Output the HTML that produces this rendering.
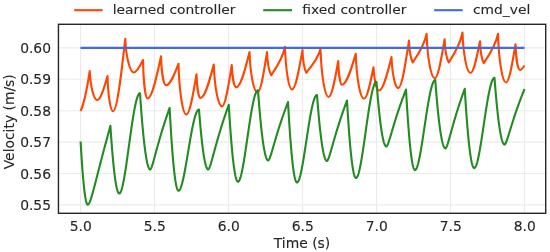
<!DOCTYPE html>
<html><head><meta charset="utf-8"><style>
html,body{margin:0;padding:0;background:#fff;}
svg{display:block;}
</style></head><body>
<svg width="550" height="252" viewBox="0 0 550 252">
<rect width="550" height="252" fill="#ffffff"/>
<g stroke="#ebebeb" stroke-width="1.1" fill="none">
<line x1="80.5" y1="24.3" x2="80.5" y2="213.3"/>
<line x1="154.5" y1="24.3" x2="154.5" y2="213.3"/>
<line x1="228.5" y1="24.3" x2="228.5" y2="213.3"/>
<line x1="302.5" y1="24.3" x2="302.5" y2="213.3"/>
<line x1="376.5" y1="24.3" x2="376.5" y2="213.3"/>
<line x1="450.5" y1="24.3" x2="450.5" y2="213.3"/>
<line x1="524.5" y1="24.3" x2="524.5" y2="213.3"/>
<line x1="58.45" y1="204.9" x2="545.7" y2="204.9"/>
<line x1="58.45" y1="173.5" x2="545.7" y2="173.5"/>
<line x1="58.45" y1="142.1" x2="545.7" y2="142.1"/>
<line x1="58.45" y1="110.7" x2="545.7" y2="110.7"/>
<line x1="58.45" y1="79.3" x2="545.7" y2="79.3"/>
<line x1="58.45" y1="47.9" x2="545.7" y2="47.9"/>
</g>
<g fill="none" stroke-width="2.1" stroke-linejoin="round" stroke-linecap="butt">
<path stroke="#ff4500" d="M80.5 111 C83.74 105 86.97 89 89.75 71 C90.5 86.95 93.88 100 97.25 100 C100.84 100 104.42 86.8 107.5 76 C108.05 95.39 110.53 111.25 113 111.25 C117.29 111.25 121.58 71.38 125.25 38.75 C126.1 57.31 129.93 72.5 133.75 72.5 C136.99 72.5 140.22 65.62 143 60 C143.45 81.17 145.47 98.5 147.5 98.5 C152.22 98.5 156.95 75.26 161 56.25 C161.5 72.17 163.75 85.2 166 85.2 C170.38 85.2 174.75 73.4 178.5 63.75 C179.28 91.66 182.79 114.5 186.3 114.5 C189.87 114.5 193.44 92.36 196.5 74.25 C196.9 87.31 198.7 98 200.5 98 C205.14 98 209.78 79.58 213.75 64.5 C214.57 87.46 218.29 106.25 222 106.25 C225.41 106.25 228.82 83.56 231.75 65 C232.2 77.24 234.22 87.25 236.25 87.25 C240.89 87.25 245.53 67.86 249.5 52 C250.3 74.28 253.9 92.5 257.5 92.5 C260.82 92.5 264.15 70.22 267 52 C267.43 64.79 269.76 72.46 271.25 75.25 C276.06 68.12 282.94 58.15 285 46.75 C285.7 70.26 288.85 89.5 292 89.5 C295.68 89.5 299.35 67.78 302.5 50 C302.88 62.51 304.94 70.02 306.25 72.75 C311.24 66.75 318.36 58.35 320.5 48.75 C321.31 75.29 324.96 97 328.6 97 C331.98 97 335.36 77.2 338.25 61 C338.62 74.06 340.31 84.75 342 84.75 C346.81 84.75 351.62 67.7 355.75 53.75 C356.57 78.5 360.29 98.75 364 98.75 C367.32 98.75 370.65 81.42 373.5 67.25 C374.05 80.04 376.52 90.5 379 90.5 C383.38 90.5 387.75 72.08 391.5 57 C392.18 74.1 395.21 88.1 398.25 88.1 C402.01 88.1 405.77 61.92 409 40.5 C409.38 52.6 411.44 59.86 412.75 62.5 C417.6 55.31 424.52 45.25 426.6 33.75 C427.42 58.23 431.08 78.25 434.75 78.25 C438.2 78.25 441.65 56.8 444.6 39.25 C445.02 52.04 447.3 59.71 448.75 62.5 C453.56 55 460.44 44.5 462.5 32.5 C463.3 54.78 466.9 73 470.5 73 C473.82 73 477.15 55.54 480 41.25 C480.38 53.21 482.44 60.39 483.75 63 C488.74 55.69 495.86 45.45 498 33.75 C498.8 60.56 502.4 82.5 506 82.5 C509.32 82.5 512.65 61.46 515.5 44.25 C515.95 58.41 517.98 70 520 70 C521.58 70 523.15 67.53 524.5 65.5"/>
<path stroke="#228b22" d="M80.6 141.5 L80.98 147.98 L81.36 154.1 L81.74 159.88 L82.12 165.31 L82.49 170.39 L82.87 175.11 L83.25 179.49 L83.63 183.52 L84.01 187.19 L84.39 190.52 L84.77 193.5 L85.15 196.12 L85.53 198.4 L85.91 200.32 L86.28 201.9 L86.66 203.12 L87.04 204 L87.42 204.52 L87.8 204.7 L88.2 204.48 L88.59 204.07 L88.99 203.49 L89.39 202.75 L89.78 201.88 L90.18 200.89 L90.58 199.79 L90.97 198.61 L91.37 197.36 L91.76 196.06 L92.16 194.7 L92.56 193.31 L92.95 191.88 L93.35 190.42 L93.75 188.95 L94.14 187.46 L94.54 185.95 L94.94 184.43 L95.33 182.9 L95.73 181.37 L96.13 179.83 L96.52 178.29 L96.92 176.74 L97.32 175.2 L97.71 173.65 L98.11 172.11 L98.51 170.56 L98.9 169.02 L99.3 167.48 L99.69 165.94 L100.09 164.41 L100.49 162.88 L100.88 161.35 L101.28 159.83 L101.68 158.32 L102.07 156.8 L102.47 155.29 L102.87 153.79 L103.26 152.29 L103.66 150.79 L104.06 149.3 L104.45 147.81 L104.85 146.32 L105.25 144.84 L105.64 143.37 L106.04 141.89 L106.44 140.42 L106.83 138.95 L107.23 137.48 L107.62 136.02 L108.02 134.56 L108.42 133.1 L108.81 131.64 L109.21 130.18 L109.61 128.72 L110 127.26 L110.4 125.8 L110.78 131.56 L111.17 137.06 L111.55 142.31 L111.94 147.3 L112.32 152.04 L112.71 156.51 L113.09 160.74 L113.48 164.71 L113.86 168.42 L114.25 171.87 L114.63 175.07 L115.02 178.01 L115.4 180.7 L115.79 183.13 L116.17 185.31 L116.56 187.23 L116.94 188.89 L117.33 190.3 L117.71 191.45 L118.1 192.35 L118.48 192.99 L118.87 193.37 L119.25 193.5 L119.65 193.38 L120.05 193.01 L120.45 192.42 L120.85 191.61 L121.25 190.59 L121.64 189.39 L122.04 187.99 L122.44 186.43 L122.84 184.71 L123.24 182.84 L123.64 180.82 L124.04 178.68 L124.44 176.43 L124.84 174.06 L125.24 171.6 L125.63 169.05 L126.03 166.42 L126.43 163.73 L126.83 160.97 L127.23 158.17 L127.63 155.33 L128.03 152.46 L128.43 149.57 L128.83 146.67 L129.23 143.77 L129.62 140.87 L130.02 137.99 L130.42 135.13 L130.82 132.3 L131.22 129.51 L131.62 126.77 L132.02 124.09 L132.42 121.47 L132.82 118.92 L133.22 116.45 L133.62 114.06 L134.01 111.77 L134.41 109.58 L134.81 107.5 L135.21 105.54 L135.61 103.69 L136.01 101.98 L136.41 100.4 L136.81 98.96 L137.21 97.67 L137.61 96.53 L138 95.55 L138.4 94.74 L138.8 94.09 L139.2 93.63 L139.6 93.35 L140 93.25 L140.39 99 L140.79 104.53 L141.18 109.83 L141.58 114.91 L141.97 119.76 L142.37 124.38 L142.76 128.78 L143.15 132.95 L143.55 136.9 L143.94 140.62 L144.34 144.12 L144.73 147.39 L145.12 150.44 L145.52 153.26 L145.91 155.85 L146.31 158.22 L146.7 160.36 L147.1 162.28 L147.49 163.97 L147.88 165.44 L148.28 166.68 L148.67 167.7 L149.07 168.48 L149.46 169.05 L149.86 169.39 L150.25 169.5 L150.64 169.12 L151.04 168.48 L151.43 167.62 L151.83 166.58 L152.22 165.42 L152.62 164.16 L153.01 162.83 L153.41 161.46 L153.8 160.06 L154.2 158.63 L154.59 157.18 L154.99 155.73 L155.38 154.27 L155.78 152.81 L156.17 151.35 L156.57 149.9 L156.96 148.45 L157.36 147.01 L157.75 145.58 L158.15 144.16 L158.54 142.75 L158.94 141.35 L159.33 139.96 L159.73 138.59 L160.12 137.22 L160.52 135.87 L160.91 134.54 L161.31 133.22 L161.7 131.91 L162.1 130.61 L162.49 129.33 L162.89 128.06 L163.28 126.8 L163.68 125.56 L164.07 124.32 L164.47 123.1 L164.86 121.89 L165.26 120.69 L165.65 119.49 L166.05 118.31 L166.44 117.13 L166.84 115.96 L167.23 114.8 L167.63 113.64 L168.02 112.49 L168.42 111.34 L168.81 110.19 L169.21 109.05 L169.6 107.9 L169.99 114.95 L170.37 121.68 L170.76 128.1 L171.15 134.21 L171.53 140.01 L171.92 145.49 L172.31 150.66 L172.7 155.51 L173.08 160.05 L173.47 164.28 L173.86 168.2 L174.24 171.8 L174.63 175.09 L175.02 178.06 L175.4 180.73 L175.79 183.08 L176.18 185.11 L176.57 186.83 L176.95 188.24 L177.34 189.34 L177.73 190.12 L178.11 190.59 L178.5 190.75 L178.89 190.65 L179.29 190.35 L179.68 189.87 L180.08 189.22 L180.47 188.4 L180.87 187.42 L181.26 186.29 L181.65 185.02 L182.05 183.63 L182.44 182.11 L182.84 180.48 L183.23 178.74 L183.62 176.91 L184.02 174.99 L184.41 173 L184.81 170.93 L185.2 168.8 L185.6 166.62 L185.99 164.39 L186.38 162.12 L186.78 159.82 L187.17 157.49 L187.57 155.15 L187.96 152.8 L188.36 150.44 L188.75 148.09 L189.14 145.76 L189.54 143.44 L189.93 141.15 L190.33 138.89 L190.72 136.67 L191.12 134.49 L191.51 132.37 L191.9 130.3 L192.3 128.3 L192.69 126.37 L193.09 124.51 L193.48 122.74 L193.88 121.05 L194.27 119.46 L194.66 117.97 L195.06 116.57 L195.45 115.29 L195.85 114.13 L196.24 113.08 L196.63 112.16 L197.03 111.36 L197.42 110.7 L197.82 110.18 L198.21 109.81 L198.61 109.58 L199 109.5 L199.39 114.4 L199.77 119.08 L200.16 123.56 L200.54 127.83 L200.93 131.9 L201.31 135.75 L201.7 139.4 L202.08 142.83 L202.47 146.06 L202.85 149.08 L203.24 151.9 L203.62 154.5 L204.01 156.9 L204.4 159.08 L204.78 161.06 L205.17 162.83 L205.55 164.4 L205.94 165.75 L206.32 166.9 L206.71 167.83 L207.09 168.56 L207.48 169.08 L207.86 169.4 L208.25 169.5 L208.64 169.13 L209.04 168.52 L209.43 167.69 L209.83 166.7 L210.22 165.57 L210.62 164.35 L211.01 163.06 L211.4 161.72 L211.8 160.34 L212.19 158.94 L212.59 157.52 L212.98 156.08 L213.38 154.64 L213.77 153.2 L214.16 151.75 L214.56 150.31 L214.95 148.87 L215.35 147.44 L215.74 146.01 L216.13 144.59 L216.53 143.18 L216.92 141.78 L217.32 140.39 L217.71 139.01 L218.11 137.64 L218.5 136.29 L218.89 134.94 L219.29 133.61 L219.68 132.3 L220.08 130.99 L220.47 129.7 L220.87 128.42 L221.26 127.15 L221.65 125.89 L222.05 124.64 L222.44 123.41 L222.84 122.19 L223.23 120.97 L223.62 119.77 L224.02 118.58 L224.41 117.39 L224.81 116.22 L225.2 115.05 L225.6 113.89 L225.99 112.73 L226.38 111.58 L226.78 110.44 L227.17 109.29 L227.57 108.16 L227.96 107.02 L228.36 105.88 L228.75 104.75 L229.14 111.03 L229.52 117.05 L229.91 122.8 L230.29 128.28 L230.68 133.49 L231.06 138.44 L231.45 143.12 L231.83 147.53 L232.22 151.67 L232.6 155.55 L232.99 159.16 L233.38 162.5 L233.76 165.57 L234.15 168.38 L234.53 170.92 L234.92 173.19 L235.3 175.2 L235.69 176.94 L236.07 178.41 L236.46 179.61 L236.84 180.55 L237.23 181.22 L237.61 181.62 L238 181.75 L238.4 181.63 L238.8 181.27 L239.2 180.69 L239.6 179.89 L240 178.89 L240.4 177.71 L240.8 176.34 L241.2 174.82 L241.6 173.13 L242 171.3 L242.4 169.34 L242.8 167.26 L243.2 165.06 L243.6 162.77 L244 160.38 L244.4 157.92 L244.8 155.38 L245.2 152.79 L245.6 150.14 L246 147.45 L246.4 144.73 L246.8 142 L247.2 139.24 L247.6 136.49 L248 133.74 L248.4 131 L248.8 128.29 L249.2 125.61 L249.6 122.97 L250 120.38 L250.4 117.85 L250.8 115.38 L251.2 112.98 L251.6 110.67 L252 108.44 L252.4 106.31 L252.8 104.28 L253.2 102.36 L253.6 100.55 L254 98.87 L254.4 97.33 L254.8 95.91 L255.2 94.65 L255.6 93.53 L256 92.56 L256.4 91.76 L256.8 91.13 L257.2 90.67 L257.6 90.39 L258 90.3 L258.39 95.6 L258.79 100.68 L259.18 105.57 L259.58 110.24 L259.97 114.7 L260.37 118.96 L260.76 123.01 L261.15 126.85 L261.55 130.49 L261.94 133.92 L262.34 137.13 L262.73 140.15 L263.12 142.95 L263.52 145.55 L263.91 147.93 L264.31 150.12 L264.7 152.09 L265.1 153.85 L265.49 155.41 L265.88 156.76 L266.28 157.9 L266.67 158.84 L267.07 159.57 L267.46 160.08 L267.86 160.4 L268.25 160.5 L268.64 160.15 L269.04 159.56 L269.44 158.77 L269.83 157.81 L270.23 156.74 L270.62 155.57 L271.01 154.35 L271.41 153.08 L271.81 151.77 L272.2 150.45 L272.6 149.11 L272.99 147.75 L273.38 146.4 L273.78 145.04 L274.18 143.68 L274.57 142.33 L274.96 140.98 L275.36 139.64 L275.75 138.3 L276.15 136.97 L276.55 135.66 L276.94 134.35 L277.33 133.05 L277.73 131.77 L278.12 130.49 L278.52 129.23 L278.92 127.98 L279.31 126.74 L279.7 125.52 L280.1 124.31 L280.5 123.1 L280.89 121.92 L281.29 120.74 L281.68 119.57 L282.07 118.42 L282.47 117.27 L282.87 116.14 L283.26 115.01 L283.65 113.89 L284.05 112.79 L284.44 111.68 L284.84 110.59 L285.24 109.5 L285.63 108.42 L286.02 107.34 L286.42 106.27 L286.81 105.2 L287.21 104.13 L287.61 103.07 L288 102 L288.39 108.85 L288.78 115.39 L289.17 121.63 L289.57 127.57 L289.96 133.2 L290.35 138.52 L290.74 143.54 L291.13 148.26 L291.52 152.67 L291.91 156.78 L292.3 160.59 L292.7 164.09 L293.09 167.28 L293.48 170.17 L293.87 172.76 L294.26 175.04 L294.65 177.02 L295.04 178.7 L295.43 180.07 L295.83 181.13 L296.22 181.89 L296.61 182.35 L297 182.5 L297.4 182.38 L297.8 182.04 L298.2 181.48 L298.6 180.72 L299 179.77 L299.4 178.63 L299.8 177.33 L300.2 175.86 L300.6 174.25 L301 172.5 L301.4 170.63 L301.8 168.63 L302.2 166.54 L302.6 164.34 L303 162.06 L303.4 159.7 L303.8 157.27 L304.2 154.79 L304.6 152.25 L305 149.68 L305.4 147.08 L305.8 144.46 L306.2 141.83 L306.6 139.19 L307 136.56 L307.4 133.95 L307.8 131.35 L308.2 128.79 L308.6 126.26 L309 123.78 L309.4 121.36 L309.8 119 L310.2 116.7 L310.6 114.49 L311 112.36 L311.4 110.32 L311.8 108.37 L312.2 106.54 L312.6 104.81 L313 103.2 L313.4 101.72 L313.8 100.37 L314.2 99.16 L314.6 98.09 L315 97.17 L315.4 96.4 L315.8 95.8 L316.2 95.36 L316.6 95.09 L317 95 L317.4 100.17 L317.8 105.14 L318.2 109.89 L318.6 114.43 L319 118.76 L319.4 122.88 L319.8 126.79 L320.2 130.48 L320.6 133.97 L321 137.24 L321.4 140.3 L321.8 143.15 L322.2 145.79 L322.6 148.22 L323 150.44 L323.4 152.45 L323.8 154.24 L324.2 155.83 L324.6 157.2 L325 158.36 L325.4 159.31 L325.8 160.05 L326.2 160.58 L326.6 160.89 L327 161 L327.4 160.64 L327.8 160.03 L328.2 159.21 L328.6 158.22 L329 157.11 L329.4 155.91 L329.8 154.64 L330.2 153.32 L330.6 151.97 L331 150.6 L331.4 149.22 L331.8 147.82 L332.2 146.42 L332.6 145.01 L333 143.61 L333.4 142.21 L333.8 140.81 L334.2 139.42 L334.6 138.04 L335 136.67 L335.4 135.31 L335.8 133.95 L336.2 132.61 L336.6 131.28 L337 129.97 L337.4 128.66 L337.8 127.37 L338.2 126.09 L338.6 124.82 L339 123.57 L339.4 122.33 L339.8 121.1 L340.2 119.88 L340.6 118.67 L341 117.48 L341.4 116.29 L341.8 115.12 L342.2 113.96 L342.6 112.8 L343 111.65 L343.4 110.52 L343.8 109.38 L344.2 108.26 L344.6 107.14 L345 106.03 L345.4 104.92 L345.8 103.81 L346.2 102.71 L346.6 101.6 L347 100.5 L347.39 107.09 L347.78 113.39 L348.17 119.4 L348.57 125.11 L348.96 130.53 L349.35 135.66 L349.74 140.5 L350.13 145.04 L350.52 149.29 L350.91 153.24 L351.3 156.9 L351.7 160.27 L352.09 163.35 L352.48 166.13 L352.87 168.62 L353.26 170.82 L353.65 172.73 L354.04 174.34 L354.43 175.66 L354.83 176.68 L355.22 177.41 L355.61 177.85 L356 178 L356.39 177.88 L356.79 177.53 L357.18 176.96 L357.58 176.18 L357.97 175.21 L358.37 174.05 L358.76 172.71 L359.15 171.21 L359.55 169.56 L359.94 167.76 L360.34 165.83 L360.73 163.78 L361.12 161.61 L361.52 159.34 L361.91 156.97 L362.31 154.52 L362.7 152 L363.1 149.41 L363.49 146.77 L363.88 144.08 L364.28 141.35 L364.67 138.6 L365.07 135.82 L365.46 133.04 L365.86 130.25 L366.25 127.47 L366.64 124.7 L367.04 121.96 L367.43 119.24 L367.83 116.56 L368.22 113.93 L368.62 111.36 L369.01 108.84 L369.4 106.39 L369.8 104.02 L370.19 101.73 L370.59 99.53 L370.98 97.43 L371.38 95.44 L371.77 93.55 L372.16 91.78 L372.56 90.13 L372.95 88.61 L373.35 87.23 L373.74 85.99 L374.13 84.9 L374.53 83.96 L374.92 83.18 L375.32 82.56 L375.71 82.11 L376.11 81.84 L376.5 81.75 L376.9 86.83 L377.29 91.7 L377.69 96.36 L378.08 100.81 L378.48 105.06 L378.88 109.1 L379.27 112.93 L379.67 116.56 L380.06 119.98 L380.46 123.19 L380.86 126.19 L381.25 128.99 L381.65 131.58 L382.04 133.96 L382.44 136.14 L382.84 138.11 L383.23 139.87 L383.63 141.42 L384.02 142.77 L384.42 143.91 L384.82 144.84 L385.21 145.57 L385.61 146.09 L386 146.4 L386.4 146.5 L386.79 146.16 L387.18 145.59 L387.58 144.81 L387.97 143.88 L388.36 142.83 L388.75 141.7 L389.14 140.51 L389.54 139.27 L389.93 138 L390.32 136.7 L390.71 135.4 L391.1 134.08 L391.5 132.76 L391.89 131.44 L392.28 130.11 L392.67 128.79 L393.06 127.48 L393.46 126.17 L393.85 124.87 L394.24 123.58 L394.63 122.29 L395.02 121.02 L395.42 119.76 L395.81 118.5 L396.2 117.26 L396.59 116.03 L396.98 114.82 L397.38 113.61 L397.77 112.42 L398.16 111.23 L398.55 110.06 L398.94 108.9 L399.34 107.76 L399.73 106.62 L400.12 105.49 L400.51 104.38 L400.9 103.27 L401.3 102.18 L401.69 101.09 L402.08 100.01 L402.47 98.94 L402.86 97.87 L403.26 96.81 L403.65 95.76 L404.04 94.71 L404.43 93.66 L404.82 92.62 L405.22 91.58 L405.61 90.54 L406 89.5 L406.39 96.35 L406.78 102.89 L407.17 109.13 L407.57 115.07 L407.96 120.7 L408.35 126.02 L408.74 131.04 L409.13 135.76 L409.52 140.17 L409.91 144.28 L410.3 148.09 L410.7 151.59 L411.09 154.78 L411.48 157.67 L411.87 160.26 L412.26 162.54 L412.65 164.52 L413.04 166.2 L413.43 167.57 L413.83 168.63 L414.22 169.39 L414.61 169.85 L415 170 L415.4 169.88 L415.79 169.54 L416.19 168.99 L416.59 168.24 L416.99 167.29 L417.38 166.17 L417.78 164.87 L418.18 163.42 L418.57 161.82 L418.97 160.08 L419.37 158.22 L419.76 156.23 L420.16 154.14 L420.56 151.95 L420.96 149.67 L421.35 147.31 L421.75 144.89 L422.15 142.4 L422.54 139.87 L422.94 137.29 L423.34 134.68 L423.74 132.04 L424.13 129.39 L424.53 126.73 L424.93 124.08 L425.32 121.43 L425.72 118.8 L426.12 116.2 L426.51 113.63 L426.91 111.1 L427.31 108.62 L427.71 106.2 L428.1 103.84 L428.5 101.56 L428.9 99.35 L429.29 97.23 L429.69 95.19 L430.09 93.26 L430.49 91.44 L430.88 89.72 L431.28 88.13 L431.68 86.66 L432.07 85.32 L432.47 84.12 L432.87 83.06 L433.26 82.14 L433.66 81.39 L434.06 80.79 L434.46 80.35 L434.85 80.09 L435.25 80 L435.64 85.16 L436.04 90.12 L436.43 94.87 L436.83 99.43 L437.22 103.78 L437.62 107.93 L438.01 111.87 L438.4 115.62 L438.8 119.16 L439.19 122.5 L439.59 125.63 L439.98 128.57 L440.38 131.3 L440.77 133.83 L441.16 136.16 L441.56 138.28 L441.95 140.2 L442.35 141.92 L442.74 143.44 L443.13 144.76 L443.53 145.87 L443.92 146.78 L444.32 147.49 L444.71 148 L445.11 148.3 L445.5 148.4 L445.89 148.03 L446.29 147.41 L446.68 146.58 L447.07 145.57 L447.46 144.45 L447.86 143.23 L448.25 141.94 L448.64 140.62 L449.04 139.25 L449.43 137.87 L449.82 136.47 L450.21 135.07 L450.61 133.65 L451 132.24 L451.39 130.83 L451.79 129.42 L452.18 128.02 L452.57 126.62 L452.96 125.24 L453.36 123.86 L453.75 122.49 L454.14 121.14 L454.54 119.8 L454.93 118.46 L455.32 117.15 L455.71 115.84 L456.11 114.55 L456.5 113.27 L456.89 112 L457.29 110.74 L457.68 109.5 L458.07 108.27 L458.46 107.05 L458.86 105.85 L459.25 104.65 L459.64 103.47 L460.04 102.3 L460.43 101.13 L460.82 99.98 L461.21 98.83 L461.61 97.69 L462 96.56 L462.39 95.43 L462.79 94.31 L463.18 93.19 L463.57 92.08 L463.96 90.97 L464.36 89.86 L464.75 88.75 L465.15 95.22 L465.54 101.41 L465.94 107.32 L466.33 112.97 L466.73 118.33 L467.12 123.42 L467.52 128.24 L467.92 132.78 L468.31 137.04 L468.71 141.03 L469.1 144.75 L469.5 148.19 L469.9 151.35 L470.29 154.24 L470.69 156.86 L471.08 159.19 L471.48 161.26 L471.88 163.05 L472.27 164.56 L472.67 165.8 L473.06 166.76 L473.46 167.45 L473.85 167.86 L474.25 168 L474.65 167.88 L475.04 167.54 L475.44 166.99 L475.84 166.23 L476.24 165.29 L476.63 164.16 L477.03 162.86 L477.43 161.41 L477.82 159.8 L478.22 158.06 L478.62 156.19 L479.01 154.2 L479.41 152.1 L479.81 149.91 L480.21 147.63 L480.6 145.26 L481 142.83 L481.4 140.34 L481.79 137.8 L482.19 135.21 L482.59 132.6 L482.99 129.96 L483.38 127.3 L483.78 124.64 L484.18 121.97 L484.57 119.32 L484.97 116.69 L485.37 114.08 L485.76 111.5 L486.16 108.97 L486.56 106.49 L486.96 104.06 L487.35 101.69 L487.75 99.4 L488.15 97.19 L488.54 95.06 L488.94 93.03 L489.34 91.09 L489.74 89.26 L490.13 87.55 L490.53 85.95 L490.93 84.47 L491.32 83.13 L491.72 81.93 L492.12 80.86 L492.51 79.95 L492.91 79.19 L493.31 78.59 L493.71 78.15 L494.1 77.89 L494.5 77.8 L494.89 82.84 L495.28 87.68 L495.67 92.33 L496.05 96.77 L496.44 101.02 L496.83 105.07 L497.22 108.93 L497.61 112.58 L498 116.04 L498.38 119.3 L498.77 122.37 L499.16 125.23 L499.55 127.9 L499.94 130.37 L500.33 132.64 L500.72 134.72 L501.1 136.6 L501.49 138.28 L501.88 139.76 L502.27 141.04 L502.66 142.13 L503.05 143.02 L503.43 143.71 L503.82 144.2 L504.21 144.5 L504.6 144.6 L505 144.27 L505.4 143.71 L505.79 142.95 L506.19 142.05 L506.59 141.02 L506.99 139.92 L507.39 138.75 L507.78 137.54 L508.18 136.31 L508.58 135.05 L508.98 133.77 L509.38 132.49 L509.77 131.2 L510.17 129.91 L510.57 128.62 L510.97 127.33 L511.37 126.05 L511.76 124.77 L512.16 123.5 L512.56 122.24 L512.96 120.99 L513.36 119.75 L513.75 118.51 L514.15 117.29 L514.55 116.08 L514.95 114.88 L515.35 113.69 L515.74 112.52 L516.14 111.35 L516.54 110.2 L516.94 109.06 L517.34 107.93 L517.73 106.81 L518.13 105.7 L518.53 104.6 L518.93 103.51 L519.33 102.44 L519.72 101.37 L520.12 100.3 L520.52 99.25 L520.92 98.2 L521.32 97.16 L521.71 96.13 L522.11 95.1 L522.51 94.08 L522.91 93.06 L523.31 92.04 L523.7 91.03 L524.1 90.01 L524.5 89"/>
<line stroke="#4169e1" x1="80.5" y1="47.9" x2="524.5" y2="47.9"/>
</g>
<rect x="58.45" y="24.3" width="487.25" height="189" fill="none" stroke="#262626" stroke-width="1.4"/>
<g font-family="'DejaVu Sans', 'Liberation Sans', sans-serif" font-size="13.86" fill="#262626" stroke="#262626" stroke-width="0.12">
<text x="80.8" y="230.6" text-anchor="middle">5.0</text>
<text x="154.8" y="230.6" text-anchor="middle">5.5</text>
<text x="228.8" y="230.6" text-anchor="middle">6.0</text>
<text x="302.8" y="230.6" text-anchor="middle">6.5</text>
<text x="376.8" y="230.6" text-anchor="middle">7.0</text>
<text x="450.8" y="230.6" text-anchor="middle">7.5</text>
<text x="524.8" y="230.6" text-anchor="middle">8.0</text>
<text x="51" y="209.9" text-anchor="end">0.55</text>
<text x="51" y="178.5" text-anchor="end">0.56</text>
<text x="51" y="147.1" text-anchor="end">0.57</text>
<text x="51" y="115.7" text-anchor="end">0.58</text>
<text x="51" y="84.3" text-anchor="end">0.59</text>
<text x="51" y="52.9" text-anchor="end">0.60</text>
<text x="302" y="247.6" text-anchor="middle">Time (s)</text>
<text transform="translate(13.8 121.8) rotate(-90)" text-anchor="middle">Velocity (m/s)</text>
<g transform="translate(0 14.0) scale(1 0.95)">
<text x="112.65" y="0">learned controller</text>
<text x="302.2" y="0">fixed controller</text>
<text x="472.9" y="0">cmd_vel</text>
</g>
</g>
<g stroke-width="2.1">
<line stroke="#ff4500" x1="74.2" y1="10.2" x2="102.6" y2="10.2"/>
<line stroke="#228b22" x1="263.2" y1="10.2" x2="292" y2="10.2"/>
<line stroke="#4169e1" x1="434.2" y1="10.2" x2="462.7" y2="10.2"/>
</g>
</svg>
</body></html>
